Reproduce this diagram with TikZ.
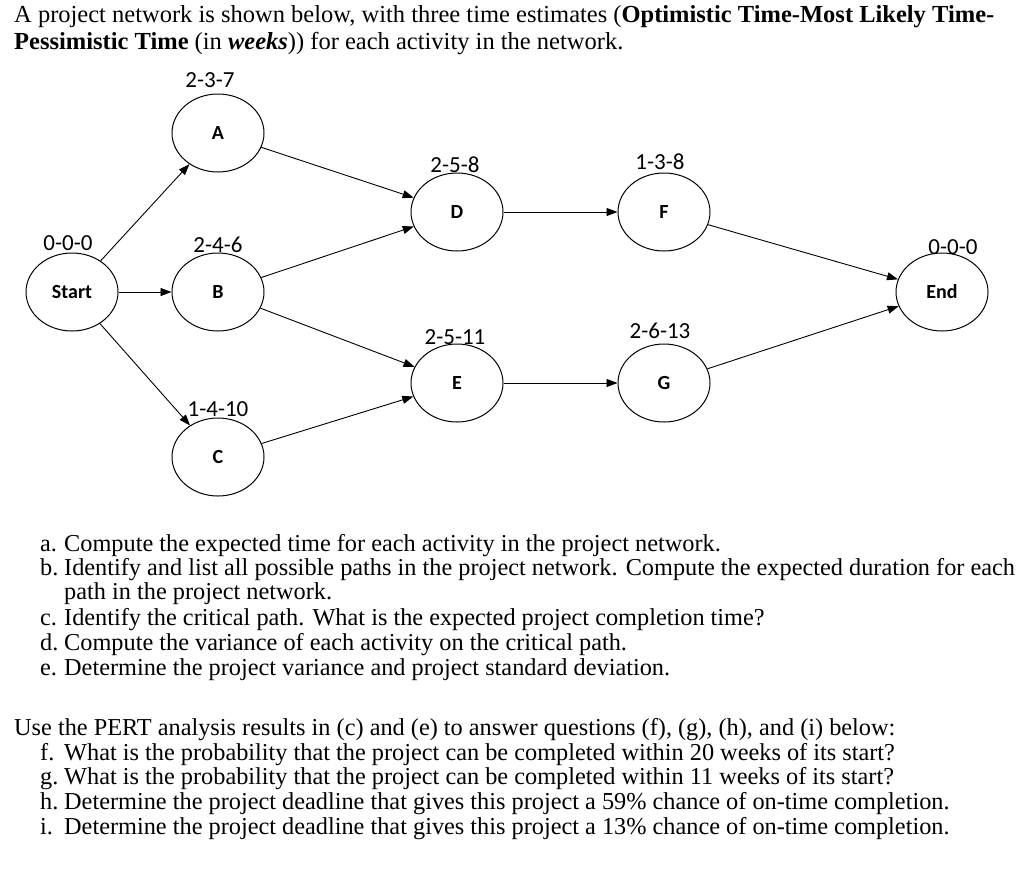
\documentclass[tikz,border=0pt]{standalone}
\usepackage{fontspec}
\setmainfont{Liberation Serif}
\newfontfamily\lab{Carlito}
\usetikzlibrary{arrows.meta,shapes.geometric}
\begin{document}
\begin{tikzpicture}[x=1pt,y=-1pt,
  ev/.style={draw,line width=1pt,ellipse,minimum width=92pt,minimum height=78pt,inner sep=0pt,font=\lab\fontsize{20}{20}\selectfont\bfseries},
  est/.style={font=\lab\fontsize{23}{23}\selectfont},
  arr/.style={-{Triangle[length=11pt,width=8pt]},line width=0.9pt},
  txt/.style={anchor=base west,inner sep=0pt,font=\fontsize{24.3}{24.3}\selectfont}]
\useasboundingbox (0,0) rectangle (1024,868);
\node[ev] (S) at (72,292) {Start};
\node[ev] (A) at (218,133) {A};
\node[ev] (B) at (218,292) {B};
\node[ev] (C) at (218,457) {C};
\node[ev] (D) at (457,212) {D};
\node[ev] (E) at (457,383) {E};
\node[ev] (F) at (664,212) {F};
\node[ev] (G) at (664,383) {G};
\node[ev] (N) at (942,292) {End};
\node[est] (lA) at (210,80) {2-3-7};
\node[est] (lS) at (68,243) {0-0-0};
\node[est] (lB) at (218,245) {2-4-6};
\node[est] (lC) at (218,409) {1-4-10};
\node[est] (lD) at (455,165) {2-5-8};
\node[est] (lE) at (455,337) {2-5-11};
\node[est] (lF) at (660,162) {1-3-8};
\node[est] (lG) at (660,331) {2-6-13};
\node[est] (lN) at (953,247) {0-0-0};
\foreach \a/\b in {S/A,S/B,S/C,A/D,B/D,B/E,C/E,D/F,E/G,F/N,G/N}
  \draw[arr] (\a) -- (\b);
\node[txt,font=\fontsize{24.5}{24.5}\selectfont] (h1) at (14,22) {A project network is shown below, with three time estimates (\textbf{Optimistic Time-Most Likely Time-}};
\node[txt,font=\fontsize{24.5}{24.5}\selectfont] (h2) at (14,49) {\textbf{Pessimistic Time} (in \textbf{\textit{weeks}})) for each activity in the network.};
\foreach \y/\l/\t in {551/a./Compute the expected time for each activity in the project network.,
  575/b./Identify and list all possible paths in the project network. Compute the expected duration for each,
  599//path in the project network.,
  625/c./Identify the critical path. What is the expected project completion time?,
  650/d./Compute the variance of each activity on the critical path.,
  675/e./Determine the project variance and project standard deviation.,
  760/f./What is the probability that the project can be completed within 20 weeks of its start?,
  784/g./What is the probability that the project can be completed within 11 weeks of its start?,
  809/h./Determine the project deadline that gives this project a 59\% chance of on-time completion.,
  834/i./Determine the project deadline that gives this project a 13\% chance of on-time completion.}
  {\node[txt] at (40,\y) {\l}; \node[txt] at (64,\y) {\t};}
\node[txt] (u) at (14,735) {Use the PERT analysis results in (c) and (e) to answer questions (f), (g), (h), and (i) below:};
\end{tikzpicture}
\end{document}
